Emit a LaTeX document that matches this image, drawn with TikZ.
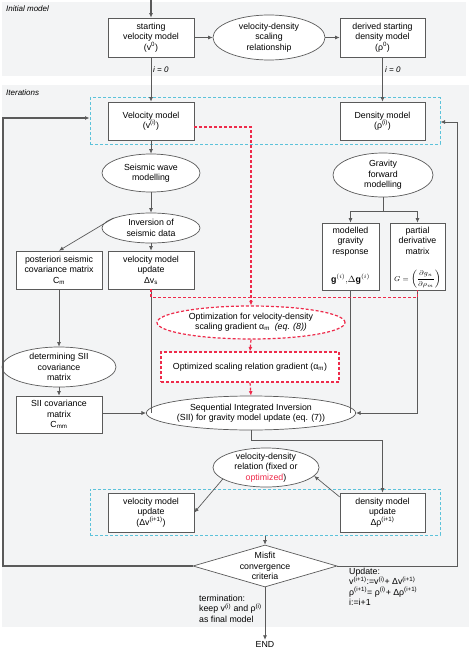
\documentclass[tikz,border=0pt]{standalone}
\usepackage{fontspec}
\setmainfont{Liberation Sans}
\usetikzlibrary{arrows.meta,shapes.geometric}
\definecolor{lgray}{HTML}{5A5A5A}
\definecolor{panel}{HTML}{F3F4F5}
\definecolor{redc}{HTML}{EE2A4A}
\definecolor{cyanc}{HTML}{5CC2DA}
\newcommand{\sups}[1]{\textsuperscript{#1}}
\newcommand{\subs}[1]{\textsubscript{#1}}
\begin{document}
\begin{tikzpicture}[x=1pt,y=-1pt,
  font=\fontsize{8.8}{10.4}\selectfont,
  box/.style={draw=lgray, fill=white, line width=0.7pt, align=center, inner sep=1pt},
  oval/.style={ellipse, draw=lgray, fill=white, line width=0.7pt, align=center, inner sep=0pt},
  tip/.style={-{Latex[length=4.5pt,width=4pt]}},
  arr/.style={draw=lgray, line width=0.7pt, tip},
  ln/.style={draw=lgray, line width=0.7pt},
  rdash/.style={draw=redc, line width=1.2pt, dash pattern=on 3pt off 2pt},
  cdash/.style={draw=cyanc, line width=1pt, dash pattern=on 3pt off 2pt},
  lbl/.style={font=\fontsize{8}{10}\selectfont\itshape},
  txt/.style={anchor=north west, align=left, inner sep=0pt},
  intext/.style={align=center, inner sep=0pt},
]
\useasboundingbox (0,0) rectangle (474,650);
\fill[white] (0,0) rectangle (474,650);
% panels
\fill[panel] (2,2) rectangle (466,76);
\fill[panel] (2,85) rectangle (469,627);
\node[lbl, anchor=west, inner sep=0] (pinit) at (6,9) {Initial model};
\node[lbl, anchor=west, inner sep=0] (piter) at (6,93) {Iterations};

% cyan groups
\node[cdash, minimum width=350pt, minimum height=46pt, inner sep=0pt] (cyan1) at (265,121) {};
\node[cdash, minimum width=350pt, minimum height=46pt, inner sep=0pt] (cyan2) at (265,512) {};

% initial model
\coordinate (topin) at (151,0);
\node[box, minimum width=86pt, minimum height=39pt] (sv) at (151,37.5) {starting\\velocity model\\(v\sups{0})};
\node[oval, minimum width=112pt, minimum height=45pt] (vds) at (269,37.5) {velocity-density\\scaling\\relationship};
\node[box, minimum width=85pt, minimum height=39pt] (ds) at (382.5,37.5) {derived starting\\density model\\(ρ\sups{0})};

% iterations
\node[box, minimum width=86pt, minimum height=38pt] (vm) at (151,121) {Velocity model\\(v\sups{(i)})};
\node[box, minimum width=85pt, minimum height=38pt] (dm) at (382.5,121) {Density model\\(ρ\sups{(i)})};
\node[oval, minimum width=98pt, minimum height=38pt] (swm) at (151,173) {Seismic wave\\modelling};
\node[oval, minimum width=100pt, minimum height=44pt] (gfm) at (383,175) {Gravity\\forward\\modelling};
\node[oval, minimum width=98pt, minimum height=30pt] (inv) at (151,228) {Inversion of\\seismic data};
\node[box, minimum width=86pt, minimum height=38pt] (pcov) at (59,270) {posteriori seismic\\covariance matrix\\C\subs{m}};
\node[box, minimum width=86pt, minimum height=38pt] (vmu) at (151,270) {velocity model\\update\\Δv\subs{s}};
\node[box, minimum width=57pt, minimum height=67pt, inner sep=0pt] (mgr) at (350.5,256.5) {};
\node[intext, anchor=north] (mgrT) at ([yshift=-4pt]mgr.north) {modelled\\gravity\\response};
\node[intext, anchor=center] (mgrF) at ([yshift=11pt]mgr.south) {$\mathbf{g}^{(i)},\!\Delta\mathbf{g}^{(i)}$};
\node[box, minimum width=55pt, minimum height=67pt, inner sep=0pt] (pdm) at (417.5,256.5) {};
\node[intext, anchor=north] (pdmT) at ([yshift=-4pt]pdm.north) {partial\\derivative\\matrix};
\node[intext, anchor=center] (pdmF) at ([yshift=11pt]pdm.south) {{\fontsize{7.5}{8}\selectfont$G=\left(\displaystyle\frac{\partial g_n}{\partial\rho_m}\right)$}};
\node[oval, rdash, minimum width=188pt, minimum height=33pt] (opt) at (251,322.5) {Optimization for velocity-density\\scaling gradient α\subs{m}\ \ \textit{(eq. (8))}};
\node[box, rdash, minimum width=178pt, minimum height=30pt] (osg) at (250,367) {Optimized scaling relation gradient (α\subs{m})};
\node[oval, minimum width=114pt, minimum height=40pt] (detsii) at (59,367) {determining SII\\covariance\\matrix};
\node[box, minimum width=86pt, minimum height=37pt] (siicov) at (59,414.5) {SII covariance\\matrix\\C\subs{mm}};
\node[oval, minimum width=188pt, minimum height=34pt] (sii) at (251,413) {Sequential Integrated Inversion\\(SII) for gravity model update (eq. (7))};
\node[oval, minimum width=106pt, minimum height=39pt, inner ysep=-1.5pt] (vdr) at (266,467.5) {velocity-density\\relation (fixed or\\{\color{redc}optimized})};
\node[box, minimum width=86pt, minimum height=39pt] (vmu2) at (151,512.5) {velocity model\\update\\(Δv\sups{(i+1)})};
\node[box, minimum width=85pt, minimum height=39pt] (dmu) at (382.5,512.5) {density model\\update\\Δρ\sups{(i+1)}};
\node[diamond, draw=lgray, fill=white, line width=0.7pt, aspect=3.4, minimum width=144pt, minimum height=42pt, inner xsep=0pt, inner ysep=-6pt, align=center] (misfit) at (265,566) {Misfit\\convergence\\criteria};
\node[inner sep=1pt] (endn) at (265,644) {END};
\node[txt] (term) at (199,595) {termination:\\keep v\sups{(i)} and ρ\sups{(i)}\\as final model};
\node[txt] (upd) at (349,568) {Update:\\v\sups{(i+1)}:=v\sups{(i)}+ Δv\sups{(i+1)}\\ρ\sups{(i+1)}= ρ\sups{(i)}+ Δρ\sups{(i+1)}\\i:=i+1};

% connectors: initial
\draw[draw=lgray, line width=1.4pt, tip] (topin) -- (sv.north);
\draw[arr] (sv) -- (vds);
\draw[arr] (vds) -- (ds);
\draw[arr] (sv.south) -- (vm.north);
\draw[arr] (ds.south) -- (dm.north);
\node[lbl, anchor=west, inner sep=0] (i0a) at (153,70) {i = 0};
\node[lbl, anchor=west, inner sep=0] (i0b) at (385,70) {i = 0};

% feedback loops
\coordinate (lcorner) at (3,566);
\coordinate (rcorner) at (457,566);
\draw[draw=lgray, line width=1.3pt, tip] (misfit.west) -- (lcorner) |- ([yshift=3pt]cyan1.west);
\draw[draw=lgray, line width=0.8pt, tip] (misfit.east) -- (rcorner) |- ([yshift=-1pt]cyan1.east);

% seismic branch
\draw[arr] (vm.south) -- (swm.north);
\draw[arr] (swm.south) -- (inv.north);
\draw[arr] (inv.165) -- (pcov.north);
\draw[arr] (inv.south) -- (vmu.north);
\draw[arr] (pcov.south) -- (detsii.north);
\draw[arr] (detsii.south) -- (siicov.north);
\draw[arr] (siicov.east |- sii.west) -- (sii.west);
\draw[ln] (vmu.south) -- (vmu.south |- sii.west);

% gravity branch
\coordinate (fork) at (383,211);
\draw[ln] (gfm.south) -- (fork);
\draw[arr] (fork) -| (mgr.north);
\draw[arr] (fork) -| (pdm.north);
\draw[ln] (mgr.south) -- (mgr.south |- sii.east);
\draw[arr] (pdm.south) |- (sii.east);

% red optimisation path
\draw[rdash, tip] ([yshift=-6pt]vm.east) -| (opt.north);
\draw[rdash] (vmu.south) -- ++(0,8) -| (pdm.south);
\draw[rdash, tip] (opt.south) -- (osg.north);
\draw[rdash, tip] (osg.south) -- (sii.north);

% update
\draw[arr] (sii.south) -- ++(0,10) -| (dmu.north);
\draw[arr] (dmu.160) -- (vdr.-10);
\draw[arr] (vdr.195) -- (vmu2.east);
\draw[arr] (cyan2.south) -- (misfit.north);
\draw[arr] (misfit.south) -- (endn.north);
\end{tikzpicture}
\end{document}
